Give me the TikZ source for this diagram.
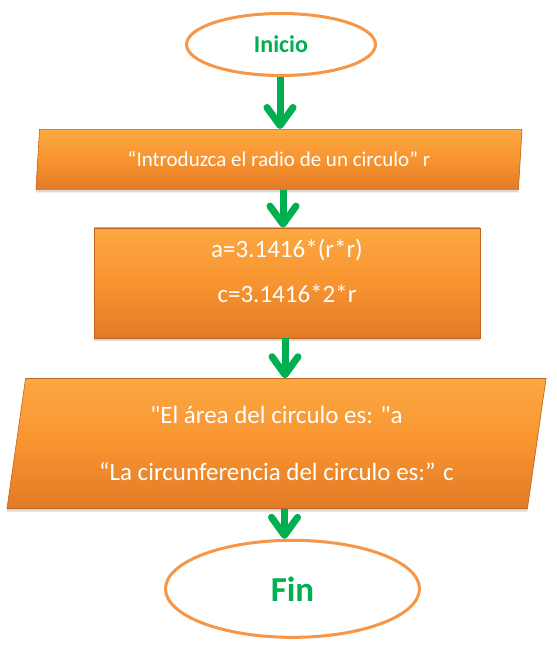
\documentclass[tikz,border=0pt]{standalone}
\usepackage{fontspec}
\setmainfont{Carlito}
\usetikzlibrary{shapes.geometric, arrows.meta, positioning, shadows}

\definecolor{boxtop}{RGB}{252,168,66}
\definecolor{boxmid}{RGB}{248,148,48}
\definecolor{boxbot}{RGB}{226,122,38}
\definecolor{boxedge}{RGB}{190,100,30}
\definecolor{termline}{RGB}{247,150,70}
\definecolor{flowgreen}{RGB}{0,176,80}

\begin{document}
\begin{tikzpicture}[
    x=1pt, y=-1pt,
    terminal/.style={ellipse, draw=termline, line width=3pt, fill=white, text=flowgreen, inner sep=0pt},
    box/.style={draw=boxedge, line width=0.6pt, top color=boxtop, bottom color=boxbot, middle color=boxmid, text=white, align=center, inner sep=0pt, drop shadow={shadow xshift=0pt, shadow yshift=-3pt, opacity=0.3}},
    io/.style={box, trapezium, trapezium stretches body},
    process/.style={box, rectangle},
    arrow/.style={-{Straight Barb[round, length=18pt, width=26pt]}, line width=7pt, draw=flowgreen}
]
    \useasboundingbox (0,0) rectangle (556,652);

    % Terminals and boxes
    \node[terminal, minimum width=189pt, minimum height=62pt, font=\fontsize{24}{28}\selectfont\bfseries] (inicio) at (281,44.5) {Inicio};
    \node[io, trapezium left angle=77, trapezium right angle=103, minimum width=486pt, minimum height=60pt, font=\fontsize{21}{25}\selectfont, below=52pt of inicio, xshift=-2pt] (in1) {“Introduzca el radio de un circulo” r};
    \node[process, minimum width=386pt, minimum height=110pt, font=\fontsize{25}{45}\selectfont, text depth=25pt, below=38pt of in1, xshift=8pt] (calc) {a=3.1416*(r*r)\\c=3.1416*2*r};
    \node[io, trapezium left angle=76, trapezium right angle=104, minimum width=539pt, minimum height=130pt, font=\fontsize{25}{57}\selectfont, below=40pt of calc, xshift=-10.5pt] (out1) {\textquotedbl El área del circulo es: \textquotedbl a\\“La circunferencia del circulo es:” c};
    \node[terminal, minimum width=254pt, minimum height=97pt, font=\fontsize{35}{40}\selectfont\bfseries, below=30pt of out1, xshift=16pt] (fin) {Fin};

    % Flow
    \draw[arrow] ([xshift=-1pt]inicio.south) -- ([xshift=1pt]in1.north);
    \draw[arrow] ([xshift=4pt]in1.south) -- ([xshift=-4pt]calc.north);
    \draw[arrow] ([xshift=-2pt]calc.south) -- ([xshift=8.5pt]out1.north);
    \draw[arrow] ([xshift=8pt]out1.south) -- ([xshift=-8pt]fin.north);

\end{tikzpicture}
\end{document}
